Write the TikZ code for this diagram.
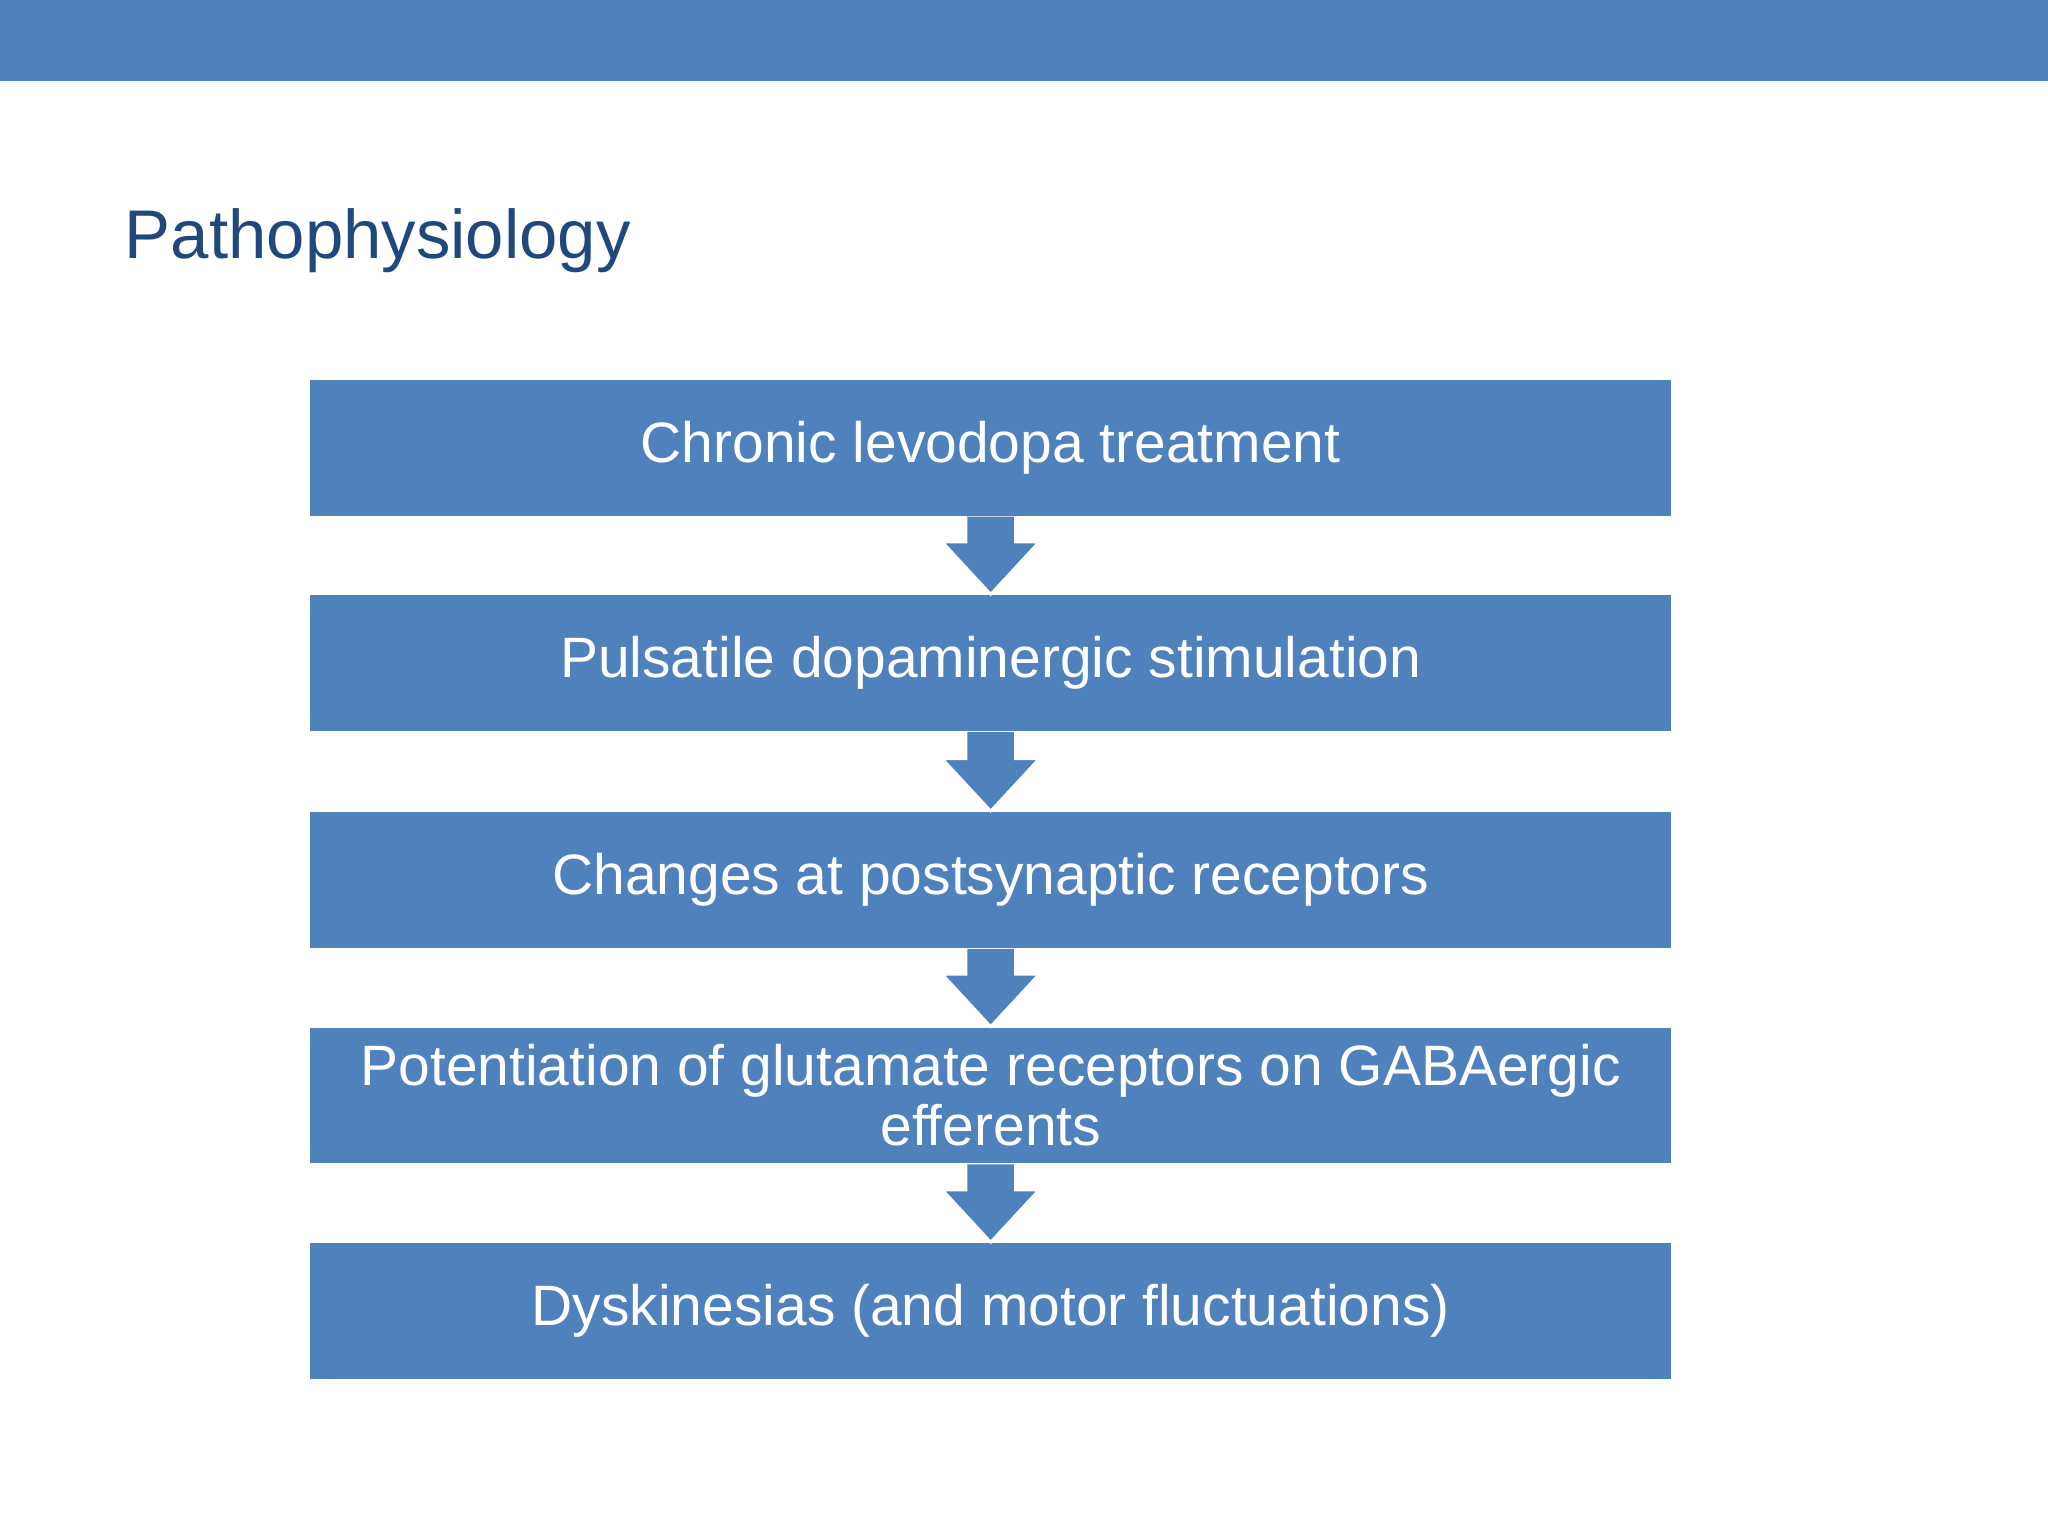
\documentclass[tikz,border=0pt]{standalone}
\usepackage{fontspec}
\setmainfont{Liberation Sans}
\usetikzlibrary{calc}
\definecolor{bar}{HTML}{4F81BD}
\definecolor{ttl}{HTML}{1F497D}
\begin{document}
\begin{tikzpicture}[x=0.01cm,y=-0.01cm,
  stepbox/.style={fill=bar,draw=none,minimum width=10.41cm,minimum height=1.04cm,text=white,font=\fontsize{12.4}{13}\selectfont,align=center,inner sep=0pt,anchor=north west}]
\useasboundingbox (0,0) rectangle (1568,1176);
\fill[bar] (0,0) rectangle (1568,62);
\node[anchor=base west,text=ttl,font=\fontsize{15}{18}\selectfont,inner sep=0pt] (title) at (95,198) {Pathophysiology};
\node[stepbox] (b1) at (237,290) {Chronic levodopa treatment};
\node[stepbox] (b2) at (237,455) {Pulsatile dopaminergic stimulation};
\node[stepbox] (b3) at (237,621) {Changes at postsynaptic receptors};
\node[stepbox] (b4) at (237,786) {Potentiation of glutamate receptors on GABAergic\\efferents};
\node[stepbox] (b5) at (237,951) {Dyskinesias (and motor fluctuations)};
\foreach \a/\b in {b1/b2,b2/b3,b3/b4,b4/b5}{
  \fill[bar,draw=white,line width=0.6pt] ($(\a.south)+(-19,0)$) -- ($(\b.north)+(-19,-40)$) -- ($(\b.north)+(-37,-40)$) -- (\b.north) -- ($(\b.north)+(37,-40)$) -- ($(\b.north)+(19,-40)$) -- ($(\a.south)+(19,0)$);
}
\end{tikzpicture}
\end{document}
